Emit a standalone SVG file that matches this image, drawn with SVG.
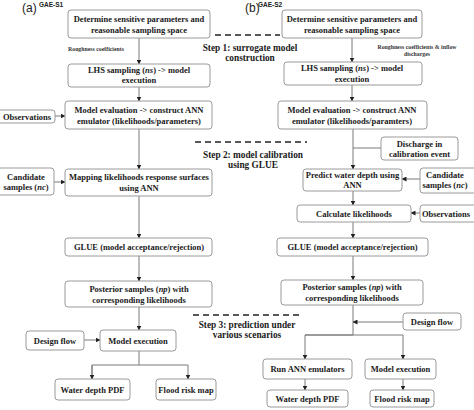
<svg xmlns="http://www.w3.org/2000/svg" width="474" height="410" viewBox="0 0 474 410">
<defs>
<marker id="ah" markerWidth="5" markerHeight="5" refX="4.5" refY="2.5" orient="auto" markerUnits="userSpaceOnUse">
<path d="M0,0 L5,2.5 L0,5 Z" fill="#222"/>
</marker>
<style>
.b{fill:#fff;stroke:#9a9a9a;stroke-width:1}
.t{font-family:"Liberation Serif","Times New Roman",serif;font-weight:bold;font-size:8.5px;fill:#1a1a1a;text-anchor:middle}
.s{font-family:"Liberation Serif","Times New Roman",serif;font-weight:bold;font-size:9.3px;fill:#1a1a1a;text-anchor:middle}
.m{font-family:"Liberation Serif","Times New Roman",serif;font-weight:bold;font-size:5.8px;fill:#333;text-anchor:middle}
.l{fill:none;stroke:#7a7a7a;stroke-width:1}
.a{fill:none;stroke:#7a7a7a;stroke-width:1;marker-end:url(#ah)}
.d{fill:none;stroke:#222;stroke-width:1.4;stroke-dasharray:6,4}
.p{font-family:"Liberation Sans",Arial,sans-serif;font-size:12px;fill:#222}
.g{font-family:"Liberation Sans",Arial,sans-serif;font-weight:bold;font-size:6.5px;fill:#222}
</style>
</defs>
<rect width="474" height="410" fill="#fff"/>

<g id="labels">
<text class="p" x="22" y="12">(a)</text>
<text class="g" x="39" y="7">GAE-S1</text>
<text class="p" x="245" y="12">(b)</text>
<text class="g" x="258" y="7">GAE-S2</text>
<text class="m" x="96" y="51">Roughness coefficients</text>
<text class="m" x="417" y="48.5">Roughness coefficients &amp; inflow</text>
<text class="m" x="417" y="55.5">discharges</text>
</g>

<g id="steps">
<line class="d" x1="215" y1="35" x2="280" y2="35"/>
<text class="s" x="250" y="51">Step 1: surrogate model</text>
<text class="s" x="250" y="61">construction</text>
<line class="d" x1="195" y1="142" x2="307" y2="142"/>
<text class="s" x="253" y="158">Step 2: model calibration</text>
<text class="s" x="253" y="168">using GLUE</text>
<line class="d" x1="193" y1="315" x2="300" y2="315"/>
<text class="s" x="247" y="328">Step 3: prediction under</text>
<text class="s" x="247" y="338">various scenarios</text>
</g>

<g id="connectors">
<line class="a" x1="139" y1="38" x2="139" y2="64"/>
<line class="a" x1="139" y1="87" x2="139" y2="101"/>
<line class="a" x1="55" y1="116" x2="65" y2="116"/>
<line class="a" x1="139" y1="129" x2="139" y2="169"/>
<line class="a" x1="54" y1="182" x2="65" y2="182"/>
<line class="a" x1="139" y1="196" x2="139" y2="238"/>
<line class="a" x1="139" y1="256" x2="139" y2="281"/>
<line class="a" x1="139" y1="307" x2="139" y2="330"/>
<line class="a" x1="84" y1="340" x2="100" y2="340"/>
<polyline class="l" points="139,351 139,365"/>
<polyline class="a" points="92,379 92,365 188,365 188,379"/>
<line class="a" x1="92" y1="365" x2="92" y2="379"/>

<line class="a" x1="352" y1="38" x2="352" y2="62"/>
<line class="a" x1="352" y1="85" x2="352" y2="101"/>
<line class="a" x1="353" y1="129" x2="353" y2="169"/>
<line class="l" x1="381" y1="148" x2="353" y2="148"/>
<line class="a" x1="420" y1="179" x2="402" y2="179"/>
<line class="a" x1="353" y1="191" x2="353" y2="205"/>
<line class="a" x1="420" y1="213" x2="411" y2="213"/>
<line class="a" x1="353" y1="222" x2="353" y2="238"/>
<line class="a" x1="353" y1="256" x2="353" y2="280"/>
<line class="l" x1="353" y1="305" x2="353" y2="335"/>
<line class="a" x1="403" y1="322" x2="353" y2="322"/>
<polyline class="a" points="305,335 403,335 403,359"/>
<polyline class="a" points="353,335 305,335 305,359"/>
<line class="a" x1="305" y1="379" x2="305" y2="390"/>
<line class="a" x1="403" y1="379" x2="403" y2="390"/>
</g>

<g id="a1"><rect class="b" x="68" y="10" width="142" height="28" rx="3"/><text class="t" x="139" y="21.5">Determine sensitive parameters and</text><text class="t" x="139" y="32.5">reasonable sampling space</text></g>
<g id="a2"><rect class="b" x="68" y="64" width="142" height="23" rx="3"/><text class="t" x="139" y="72.5">LHS sampling (<tspan font-style="italic">ns</tspan>) -&gt; model</text><text class="t" x="139" y="83">execution</text></g>
<g id="a3"><rect class="b" x="65" y="101" width="147" height="28" rx="3"/><text class="t" x="139" y="113">Model evaluation -&gt; construct ANN</text><text class="t" x="139" y="124">emulator (likelihoods/parameters)</text></g>
<g id="a-obs"><rect class="b" x="-3" y="110" width="58" height="13" rx="3"/><text class="t" x="27" y="119.5">Observations</text></g>
<g id="a4"><rect class="b" x="65" y="169" width="147" height="27" rx="3"/><text class="t" x="139" y="180">Mapping likelihoods response surfaces</text><text class="t" x="139" y="190.5">using ANN</text></g>
<g id="a-cand"><rect class="b" x="-3" y="168" width="57" height="27" rx="3"/><text class="t" x="26" y="179.5">Candidate</text><text class="t" x="26" y="190">samples (<tspan font-style="italic">nc</tspan>)</text></g>
<g id="a5"><rect class="b" x="65" y="238" width="147" height="18" rx="3"/><text class="t" x="139" y="250">GLUE (model acceptance/rejection)</text></g>
<g id="a6"><rect class="b" x="65" y="281" width="147" height="26" rx="3"/><text class="t" x="139" y="292">Posterior samples (<tspan font-style="italic">np</tspan>) with</text><text class="t" x="139" y="302.5">corresponding likelihoods</text></g>
<g id="a-exec"><rect class="b" x="100" y="330" width="76" height="21" rx="3"/><text class="t" x="138" y="343.5">Model execution</text></g>
<g id="a-design"><rect class="b" x="26" y="331" width="58" height="19" rx="3"/><text class="t" x="55" y="343.5">Design flow</text></g>
<g id="a-pdf"><rect class="b" x="55" y="379" width="75" height="21" rx="3"/><text class="t" x="92.5" y="393">Water depth PDF</text></g>
<g id="a-map"><rect class="b" x="156" y="379" width="60" height="21" rx="3"/><text class="t" x="186" y="393">Flood risk map</text></g>

<g id="b1"><rect class="b" x="282" y="10" width="140" height="28" rx="3"/><text class="t" x="352" y="22">Determine sensitive parameters and</text><text class="t" x="352" y="32.5">reasonable sampling space</text></g>
<g id="b2"><rect class="b" x="284" y="62" width="138" height="23" rx="3"/><text class="t" x="352" y="71">LHS sampling (<tspan font-style="italic">ns</tspan>) -&gt; model</text><text class="t" x="352" y="81.5">execution</text></g>
<g id="b3"><rect class="b" x="278" y="101" width="149" height="28" rx="3"/><text class="t" x="352" y="113">Model evaluation -&gt; construct ANN</text><text class="t" x="352" y="124">emulator (likelihoods/paramters)</text></g>
<g id="b-dis"><rect class="b" x="381" y="137" width="77" height="23" rx="3"/><text class="t" x="419.5" y="147">Discharge in</text><text class="t" x="419.5" y="157">calibration event</text></g>
<g id="b4"><rect class="b" x="303" y="169" width="99" height="22" rx="3"/><text class="t" x="352.5" y="178">Predict water depth using</text><text class="t" x="352.5" y="188">ANN</text></g>
<g id="b-cand"><rect class="b" x="420" y="168" width="57" height="25" rx="3"/><text class="t" x="445" y="177.5">Candidate</text><text class="t" x="445" y="188">samples (<tspan font-style="italic">nc</tspan>)</text></g>
<g id="b5"><rect class="b" x="297" y="205" width="114" height="17" rx="3"/><text class="t" x="354" y="216.5">Calculate likelihoods</text></g>
<g id="b-obs"><rect class="b" x="420" y="205" width="57" height="17" rx="3"/><text class="t" x="446" y="216.5">Observations</text></g>
<g id="b6"><rect class="b" x="277" y="238" width="151" height="18" rx="3"/><text class="t" x="352.5" y="250">GLUE (model acceptance/rejection)</text></g>
<g id="b7"><rect class="b" x="281" y="280" width="142" height="25" rx="3"/><text class="t" x="352" y="290">Posterior samples (<tspan font-style="italic">np</tspan>) with</text><text class="t" x="352" y="300.5">corresponding likelihoods</text></g>
<g id="b-design"><rect class="b" x="403" y="313" width="58" height="17" rx="3"/><text class="t" x="432" y="324.5">Design flow</text></g>
<g id="b-ann"><rect class="b" x="263" y="359" width="89" height="20" rx="3"/><text class="t" x="307.5" y="372">Run ANN emulators</text></g>
<g id="b-exec"><rect class="b" x="365" y="359" width="71" height="20" rx="3"/><text class="t" x="400.5" y="372">Model execution</text></g>
<g id="b-pdf"><rect class="b" x="267" y="390" width="81" height="17" rx="3"/><text class="t" x="307.5" y="401.5">Water depth PDF</text></g>
<g id="b-map"><rect class="b" x="370" y="390" width="64" height="17" rx="3"/><text class="t" x="402" y="401.5">Flood risk map</text></g>
</svg>
